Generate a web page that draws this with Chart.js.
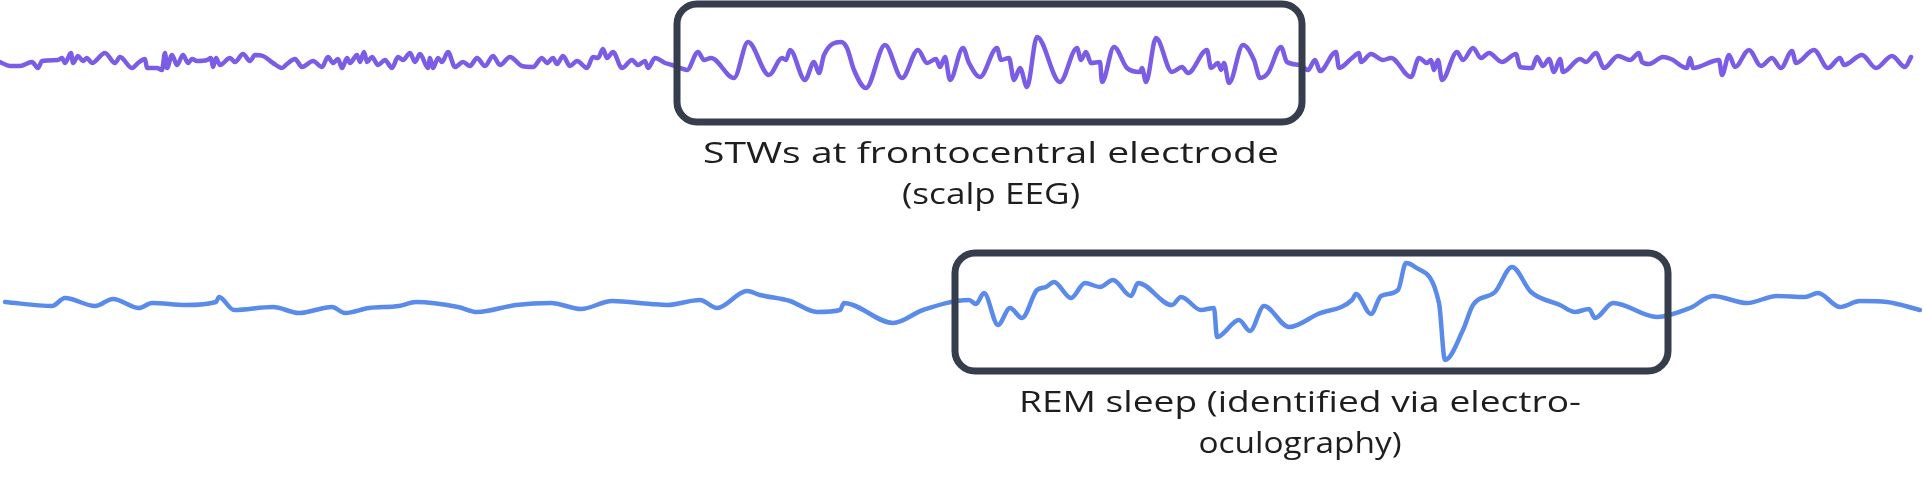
<!doctype html>
<html>
<head>
<title>STWs vs REM sleep</title>
<script src="https://cdn.jsdelivr.net/npm/chart.js@4.4.0/dist/chart.umd.min.js"></script>
<style>
    body { margin: 0; background: #fff; }
    #wrap { width: 1923px; height: 492px; }
</style>
</head>

<body>
<div id="wrap"><canvas id="chart" width="1923" height="492"></canvas></div>
<script>
    // scalp EEG trace (frontocentral electrode) - time (samples) and amplitude
    const stwTime = [0,10,20,32,38,42,58,62,65,71,73,78,83,87,92,105,115,120,132,138,145,147,157,162,165,167,172,177,183,188,192,197,207,211,213,216,220,230,235,243,250,255,263,273,282,287,295,302,313,322,328,333,338,
        342,347,350,357,360,364,367,372,378,385,392,398,403,410,415,420,428,430,433,438,442,448,455,463,470,477,485,493,500,510,522,533,542,547,553,557,563,570,577,587,593,598,603,607,613,622,632,638,645,648,655,665,672,
        680,687,698,704,711,734,748,769,782,786,790,805,814,819,824,841,847,854,866,885,902,918,927,936,940,945,950,963,969,980,997,1001,1009,1014,1020,1027,1037,1060,1077,1081,1086,1091,1100,1102,1114,1127,1140,1142,1146,1156,1172,1182,1188,1207,1211,1218,1221,1224,1229,1243,1254,1260,1268,1281,1287,1300,
        1308,1315,1320,1336,1339,1352,1359,1361,1371,1383,1391,1411,1419,1427,1431,1434,1438,1442,1457,1463,1473,1481,1489,1502,1516,1520,1532,1537,1543,1549,1554,1560,1563,1580,1586,1596,1604,1618,1630,1639,1642,1649,1663,1671,1687,1690,1693,1719,1722,1729,1735,1749,1761,1772,1781,1792,1796,1814,1828,1840,1844,1862,1876,1892,1905,1911];
    const stwAmp = [0,-4,-4,0,-6,1,2,4,-1,9,-1,6,1,4,-1,9,-1,5,-6,-1,3,-6,-6,-8,9,-6,7,-3,7,-1,3,1,2,4,-5,4,-3,4,0,8,1,7,6,-1,-6,-2,3,-5,1,-5,5,-1,3,
        -6,4,-1,7,0,10,0,5,-3,2,-6,5,2,9,0,8,-6,4,-6,4,0,10,-5,0,-4,4,-4,6,-3,5,-4,-5,4,-1,4,-2,6,-4,1,-6,5,4,13,4,10,-6,2,-3,1,-6,4,-1,-3,
        -6,-8,10,2,4,-16,20,-13,4,2,12,-18,0,-11,7,20,14,-8,-26,17,-16,12,-1,3,-5,5,-18,14,-1,-15,14,2,4,-18,-6,-25,25,-20,14,2,10,-1,0,-20,15,-6,-10,-6,-20,24,-10,-5,-11,12,-6,-1,-8,-1,-21,17,2,-16,-11,15,0,-3,
        -8,2,-9,10,-6,4,9,0,8,2,4,-15,4,-1,2,-8,2,-18,10,2,14,4,9,0,8,-5,-6,5,-4,3,-10,3,-10,3,0,9,-6,6,2,9,0,-2,5,3,-6,4,-6,2,-13,7,-5,12,-4,4,-6,11,-1,12,-6,4,-3,7,-6,6,-5,5];

    // REM sleep trace
    const remTime = [5,52,65,95,113,139,152,186,216,219,234,273,299,332,345,369,399,416,458,477,516,551,581,612,651,667,700,717,747,760,790,817,840,844,853,893,923,969,976,984,998,1010,1022,1037,1046,1054,1071,1085,1100,1113,1131,1138,
        1172,1181,1201,1214,1217,1239,1250,1264,1289,1318,1352,1356,1371,1381,1398,1406,1415,1439,1445,1463,1473,1495,1512,1531,1560,1575,1589,1595,1613,1657,1690,1713,1747,1777,1805,1818,1840,1860,1887,1920];
    const remAmp = [1,-3,5,-3,4,-5,0,-2,1,6,-7,-4,-10,-4,-10,-5,-3,1,-4,-9,-2,0,-6,2,-1,-2,3,-5,12,8,2,-9,-7,0,-2,-20,-7,3,-1,10,-22,-5,-15,13,16,21,5,20,16,23,7,20,
        -2,6,-7,-5,-34,-17,-28,-3,-24,-11,3,9,-11,7,13,40,36,0,-57,-27,-2,11,36,11,-2,-9,-6,-15,0,-14,-5,7,0,7,6,10,-4,2,1,-7];

    // highlighted windows (time range) and labels
    const stwWindow = [677, 1302];
    const remWindow = [955, 1668];
    const stwLabel = ['STWs at frontocentral electrode', '(scalp EEG)'];
    const remLabel = ['REM sleep (identified via electro-', 'oculography)'];

    function toPoints(xs, ys) {
        return xs.map((x, i) => ({x: x, y: ys[i]}));
    }

    const windows = [
        {range: stwWindow, axis: 'yTop', top: 58, bottom: -60, label: stwLabel, cx: 991, base: 163, widths: [576, 178]},
        {range: remWindow, axis: 'yBot', top: 50, bottom: -68, label: remLabel, cx: 1300, base: 412, widths: [562, 203]}
    ];

    const boxPlugin = {
        id: 'boxes',
        afterDatasetsDraw(chart) {
            const ctx = chart.ctx;
            const xs = chart.scales.x;
            windows.forEach(w => {
                const ys = chart.scales[w.axis];
                const x1 = xs.getPixelForValue(w.range[0]);
                const x2 = xs.getPixelForValue(w.range[1]);
                const y1 = ys.getPixelForValue(w.top);
                const y2 = ys.getPixelForValue(w.bottom);
                ctx.save();
                ctx.strokeStyle = '#363d4c';
                ctx.lineWidth = 7;
                ctx.beginPath();
                ctx.roundRect(x1, y1, x2 - x1, y2 - y1, 20);
                ctx.stroke();
                // label under the box
                ctx.fillStyle = '#1e1e1e';
                ctx.font = '30px "Open Sans"';
                ctx.textAlign = 'center';
                ctx.textBaseline = 'alphabetic';
                w.label.forEach((txt, i) => {
                    const m = ctx.measureText(txt).width;
                    ctx.save();
                    ctx.translate(w.cx, w.base + i * 41);
                    ctx.scale(w.widths[i] / m, 1);
                    ctx.fillText(txt, 0, 0);
                    ctx.restore();
                });
                ctx.restore();
            });
        }
    };

    const ctx = document.getElementById('chart');
    const myChart = new Chart(ctx, {
        type: 'line',
        data: {
            datasets: [{
                label: 'Scalp EEG',
                data: toPoints(stwTime, stwAmp),
                yAxisID: 'yTop',
                borderColor: '#7b5ce6',
                borderWidth: 4.5,
                cubicInterpolationMode: 'monotone',
                borderCapStyle: 'round',
                borderJoinStyle: 'round',
                pointRadius: 0,
                clip: false
            }, {
                label: 'REM sleep',
                data: toPoints(remTime, remAmp),
                yAxisID: 'yBot',
                borderColor: '#5a8aea',
                borderWidth: 4.5,
                cubicInterpolationMode: 'monotone',
                borderCapStyle: 'round',
                borderJoinStyle: 'round',
                pointRadius: 0,
                clip: false
            }]
        },
        options: {
            responsive: false,
            animation: false,
            layout: { padding: 0 },
            plugins: { legend: { display: false }, tooltip: { enabled: false } },
            scales: {
                x: { type: 'linear', min: 0, max: 1923, display: false },
                yTop: { type: 'linear', min: -430, max: 62, display: false },
                yBot: { type: 'linear', min: -189, max: 303, display: false }
            }
        },
        plugins: [boxPlugin]
    });
</script>

</body>
</html>
